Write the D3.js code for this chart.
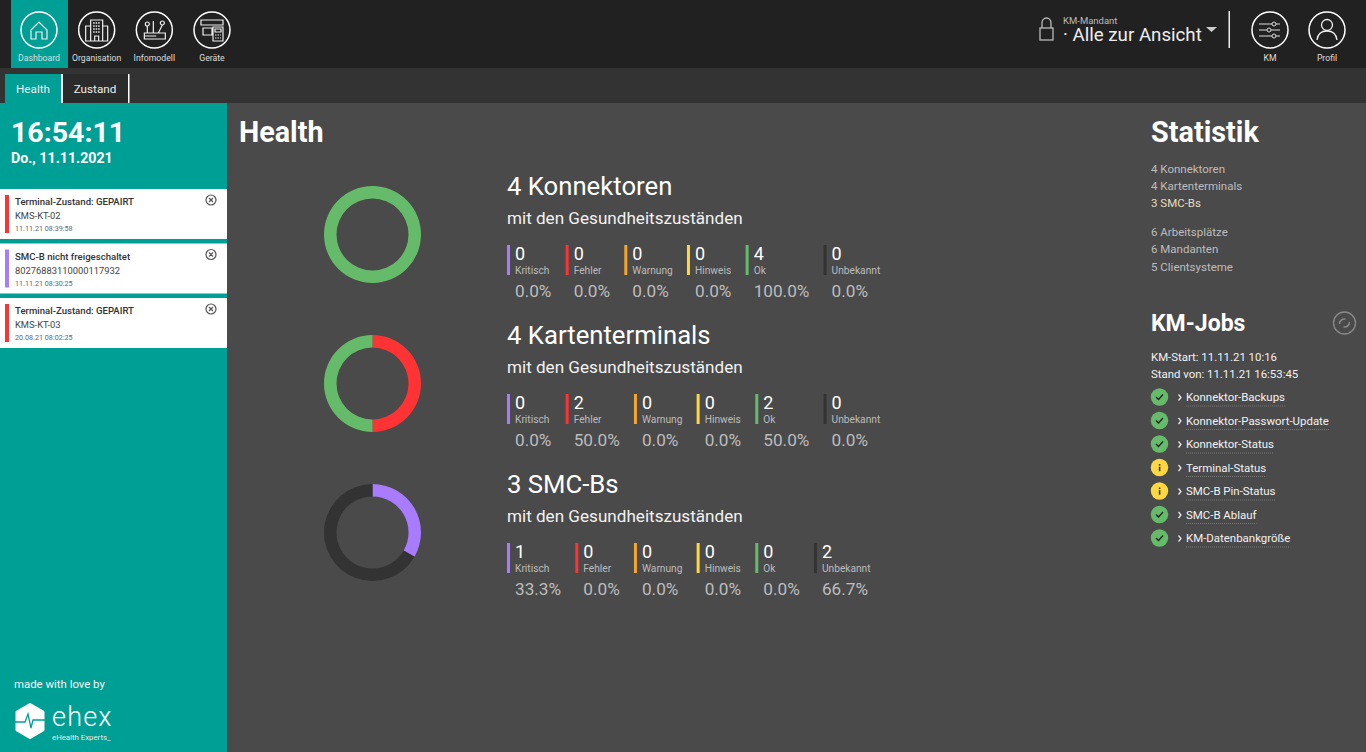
<!DOCTYPE html>
<html>
<head>
<meta charset="utf-8">
<script src="https://cdn.jsdelivr.net/npm/d3@7"></script>
<style>
  html, body { margin: 0; padding: 0; background: #4a4a4a; overflow: hidden; }
  text { font-family: Roboto, sans-serif; }
  svg { display: block; }
</style>
</head>
<body>
<div id="container"></div>
<script>
// chart data
const states = ['Kritisch', 'Fehler', 'Warnung', 'Hinweis', 'Ok', 'Unbekannt'];
const stateColors = ['#a87bff', '#ff3333', '#f2a62e', '#ffd740', '#66bb6a', '#333333'];
const groupTitles = ['4 Konnektoren', '4 Kartenterminals', '3 SMC-Bs'];
const konnektorCounts = [0, 0, 0, 0, 4, 0];
const terminalCounts = [0, 2, 0, 0, 2, 0];
const smcbCounts = [1, 0, 0, 0, 0, 2];
const groupCounts = [konnektorCounts, terminalCounts, smcbCounts];

const navItems = ['Dashboard', 'Organisation', 'Infomodell', 'Geräte'];
const statLines = ['4 Konnektoren', '4 Kartenterminals', '3 SMC-Bs', '6 Arbeitsplätze', '6 Mandanten', '5 Clientsysteme'];
const jobNames = ['Konnektor-Backups', 'Konnektor-Passwort-Update', 'Konnektor-Status', 'Terminal-Status', 'SMC-B Pin-Status', 'SMC-B Ablauf', 'KM-Datenbankgröße'];
const jobStates = ['ok', 'ok', 'ok', 'info', 'info', 'ok', 'ok'];
const cardTitles = ['Terminal-Zustand: GEPAIRT', 'SMC-B nicht freigeschaltet', 'Terminal-Zustand: GEPAIRT'];
const cardSubs = ['KMS-KT-02', '80276883110000117932', 'KMS-KT-03'];
const cardTimes = ['11.11.21 08:39:58', '11.11.21 08:30:25', '20.08.21 08:02:25'];
const cardColors = ['#ff3333', '#a87bff', '#ff3333'];

const width = 1366;
const height = 752;
const teal = '#009f95';

const svg = d3.select('#container').append('svg')
    .attr('width', width)
    .attr('height', height);

function label(parent, x, y, str, size, fill, weight, anchor) {
    return parent.append('text')
        .attr('x', x)
        .attr('y', y)
        .attr('font-size', size)
        .attr('fill', fill)
        .attr('font-weight', weight || 400)
        .attr('text-anchor', anchor || 'start')
        .text(str);
}

function box(parent, x, y, w, h, fill) {
    return parent.append('rect').attr('x', x).attr('y', y).attr('width', w).attr('height', h).attr('fill', fill);
}

// backgrounds
box(svg, 0, 0, width, height, '#4a4a4a');
box(svg, 0, 0, width, 68, '#212121');
box(svg, 0, 68, width, 35, '#333333');
box(svg, 0, 103, 227, 649, teal);
box(svg, 11, 0, 57, 68, teal);

// top navigation
const navX = d3.scalePoint().domain(navItems).range([39, 212]);
navItems.forEach((d) => {
    const g = svg.append('g').attr('transform', `translate(${navX(d)},30)`);
    g.append('circle').attr('r', 18).attr('fill', 'none').attr('stroke', '#fff').attr('stroke-width', 1.5);
    label(svg, navX(d), 61, d, 8.7, '#ddd', 400, 'middle');
    const ic = g.append('g').attr('fill', 'none').attr('stroke', '#eee').attr('stroke-width', 1.2);
    if (d === 'Dashboard') {
        ic.append('path').attr('d', 'M-8,0 L0,-8 L8,0 V9 H3 V2 H-3 V9 H-8 Z');
    } else if (d === 'Organisation') {
        ic.append('path').attr('d', 'M-6,11 V-10 H6 V11 Z M-6,-4 H-11 V11 H11 V-4 H6 M-2,11 V6 H2 V11');
        ic.append('path').attr('d', 'M-3.5,-7 H3.5 M-3.5,-4 H3.5 M-3.5,-1 H3.5 M-3.5,2 H3.5').attr('stroke-width', 1.6).attr('stroke-dasharray', '1.5 1');
    } else if (d === 'Infomodell') {
        ic.append('path').attr('d', 'M-10,3 H11 V9 H-10 Z M-10,6 H2 M-7,3 V-4 M-1,3 V-9 M4,3 L8,-5');
        ic.append('circle').attr('cx', -7).attr('cy', -6).attr('r', 2);
        ic.append('circle').attr('cx', 8).attr('cy', -7).attr('r', 2);
    } else {
        ic.append('path').attr('d', 'M-11,-10 H11 V-5 H-11 Z M-9,-2 H0 V5 H-9 Z M1,-3 H11 V11 H1 Z M3,-1 H9 V2 H3 Z');
        ic.append('path').attr('d', 'M3,5 H9 M3,8 H9').attr('stroke-dasharray', '1.5 1');
    }
});

// tabs
box(svg, 5, 74, 56, 29, teal);
box(svg, 61, 74, 2, 29, '#fff');
box(svg, 63, 74, 65, 29, '#2b2b2b');
box(svg, 128, 74, 1.5, 29, '#fff');
label(svg, 33, 92.5, 'Health', 11.7, '#eee', 400, 'middle');
label(svg, 95, 92.5, 'Zustand', 11.7, '#eee', 400, 'middle');

// mandant selector
const lock = svg.append('g').attr('fill', 'none').attr('stroke', '#bbb').attr('stroke-width', 1.3);
lock.append('rect').attr('x', 1040).attr('y', 28).attr('width', 13).attr('height', 12);
lock.append('path').attr('d', 'M1042,28 V23 A4.5,5 0 0 1 1051,23 V28');
label(svg, 1063, 24, 'KM-Mandant', 9.5, '#bbb');
label(svg, 1063, 41, '· Alle zur Ansicht', 18.7, '#eee');
svg.append('path').attr('d', 'M1206,27 H1217 L1211.5,32 Z').attr('fill', '#ccc');
box(svg, 1228.5, 11, 1.5, 37, '#eee');

// KM + Profil buttons
const kmIcon = svg.append('g').attr('transform', 'translate(1270,30)');
kmIcon.append('circle').attr('r', 18).attr('fill', 'none').attr('stroke', '#fff').attr('stroke-width', 1.5);
kmIcon.append('path').attr('d', 'M-11,-6 H10 M-11,0 H10 M-11,6 H10').attr('stroke', '#ddd').attr('stroke-width', 1.1);
kmIcon.selectAll('circle.knob').data([[4, -6], [-1, 0], [4, 6]]).enter().append('circle')
    .attr('class', 'knob').attr('cx', (d) => d[0]).attr('cy', (d) => d[1]).attr('r', 2)
    .attr('fill', '#212121').attr('stroke', '#ddd');
label(svg, 1270, 61, 'KM', 8.7, '#ddd', 400, 'middle');

const profil = svg.append('g').attr('transform', 'translate(1327,30)');
profil.append('circle').attr('r', 18).attr('fill', 'none').attr('stroke', '#fff').attr('stroke-width', 1.5);
profil.append('circle').attr('cy', -5).attr('r', 5.5).attr('fill', 'none').attr('stroke', '#eee').attr('stroke-width', 1.3);
profil.append('path').attr('d', 'M-10,10 C-9,2 -4,1 0,1 C4,1 9,2 10,10').attr('fill', 'none').attr('stroke', '#eee').attr('stroke-width', 1.3);
label(svg, 1327, 61, 'Profil', 8.7, '#ddd', 400, 'middle');

// sidebar clock
label(svg, 11, 142, '16:54:11', 28.5, '#fff', 700);
label(svg, 11, 163, 'Do., 11.11.2021', 14.2, '#fff', 700);

// sidebar cards
cardTitles.forEach((d, i) => {
    const g = svg.append('g').attr('transform', `translate(0,${189 + i * 54.5})`);
    box(g, 0, 0, 227, 50, '#fff');
    box(g, 5, 6, 4, 38, cardColors[i]);
    label(g, 15, 16, d, 9.6, '#333', 500);
    label(g, 15, 30, cardSubs[i], 9.35, '#444');
    label(g, 15, 42, cardTimes[i], 7.2, '#666');
    g.append('circle').attr('cx', 211).attr('cy', 11).attr('r', 5).attr('fill', 'none').attr('stroke', '#555').attr('stroke-width', 1.2);
    g.append('path').attr('d', 'M209,9 L213,13 M213,9 L209,13').attr('stroke', '#555').attr('stroke-width', 1.2);
});

// footer logo
label(svg, 14, 687.5, 'made with love by', 11.4, '#f2f2f2');
svg.append('path').attr('d', 'M30,704.5 L43,712 V730 L30,737.5 L17,730 V712 Z')
    .attr('fill', '#fff').attr('stroke', '#fff').attr('stroke-width', 3).attr('stroke-linejoin', 'round');
svg.append('path').attr('d', 'M15,722 H25 L28,714 L31,728 L33,720 H45').attr('fill', 'none').attr('stroke', teal).attr('stroke-width', 1.3);
label(svg, 52, 726, 'ehex', 27, '#fff', 300).attr('letter-spacing', 1.2);
label(svg, 52, 739.5, 'eHealth Experts_', 7.8, '#e8e8e8');

// main headings
label(svg, 239, 142, 'Health', 28.7, '#fff', 700);
label(svg, 1151, 142, 'Statistik', 28.8, '#fff', 700);

// statistics list
const statY = [173, 190, 207, 236, 253, 270.5];
statLines.forEach((d, i) => {
    label(svg, 1151, statY[i], d, 11.5, i === 2 ? '#e6dcc0' : '#bdbdbd');
});

// KM jobs
label(svg, 1151, 331, 'KM-Jobs', 23, '#fff', 700);
label(svg, 1151, 361, 'KM-Start: 11.11.21 10:16', 11.4, '#f2f2f2');
label(svg, 1151, 378, 'Stand von: 11.11.21 16:53:45', 11.4, '#f2f2f2');
const refresh = svg.append('g').attr('transform', 'translate(1344.5,323)');
refresh.append('circle').attr('r', 11).attr('fill', 'none').attr('stroke', '#8a8a8a').attr('stroke-width', 1.3);
refresh.append('path').attr('d', 'M-5,1 A5,5 0 0 1 1,-4 M5,-1 A5,5 0 0 1 -1,4').attr('fill', 'none').attr('stroke', '#8a8a8a').attr('stroke-width', 1.5);

const jobY = d3.scalePoint().domain(jobNames).range([397, 538]);
jobNames.forEach((d, i) => {
    const y = jobY(d);
    const ok = jobStates[i] === 'ok';
    svg.append('circle').attr('cx', 1159.5).attr('cy', y).attr('r', 8.7).attr('fill', ok ? '#66bb6a' : '#ffd740');
    if (ok) {
        svg.append('path').attr('d', `M1156,${y} L1158.5,${y + 2.5} L1163,${y - 2.5}`).attr('fill', 'none').attr('stroke', '#222').attr('stroke-width', 1.3);
    } else {
        box(svg, 1158.8, y - 3.5, 1.6, 1.6, '#333');
        box(svg, 1158.8, y - 0.8, 1.6, 4.5, '#333');
    }
    svg.append('path').attr('d', `M1178.5,${y - 2.5} L1181,${y + 0.5} L1178.5,${y + 3.5}`).attr('fill', 'none').attr('stroke', '#eee').attr('stroke-width', 1.2);
    const t = label(svg, 1186, y + 4, d, 11.45, '#f2f2f2');
    const w = t.node().getComputedTextLength();
    svg.append('line').attr('x1', 1186).attr('x2', 1186 + w).attr('y1', y + 9).attr('y2', y + 9)
        .attr('stroke', '#777').attr('stroke-dasharray', '1 1');
});

// donuts + state tables
const pie = d3.pie().sort(null).value((d) => d);
const arc = d3.arc().innerRadius(36).outerRadius(48.5);
const rowY = d3.scalePoint().domain(groupTitles).range([0, 298]);

groupTitles.forEach((title, g) => {
    const counts = groupCounts[g];
    const total = d3.sum(counts);
    const top = rowY(title);

    svg.append('g')
        .attr('transform', `translate(372.5,${234.5 + top})`)
        .selectAll('path')
        .data(pie(counts))
        .enter()
        .append('path')
        .attr('d', arc)
        .attr('fill', (d, i) => stateColors[i]);

    label(svg, 507, 195 + top, title, 25.7, '#fff');
    label(svg, 507, 224 + top, 'mit den Gesundheitszuständen', 17.1, '#f2f2f2');

    // each column is as wide as its widest text, like the original flow layout
    let x = 507;
    states.forEach((state, i) => {
        const col = svg.append('g').attr('transform', `translate(${x},${top})`);
        box(col, 0, 245, 3, 30, stateColors[i]);
        label(col, 8, 260, counts[i], 18, '#fff');
        const a = label(col, 8, 274, state, 10.2, '#bdbdbd');
        const b = label(col, 8, 296.5, d3.format('.1f')(counts[i] / total * 100) + '%', 17.2, '#bdbdbd');
        x += 8 + Math.max(a.node().getComputedTextLength(), b.node().getComputedTextLength()) + 14.2;
    });
});
</script>
</body>
</html>
